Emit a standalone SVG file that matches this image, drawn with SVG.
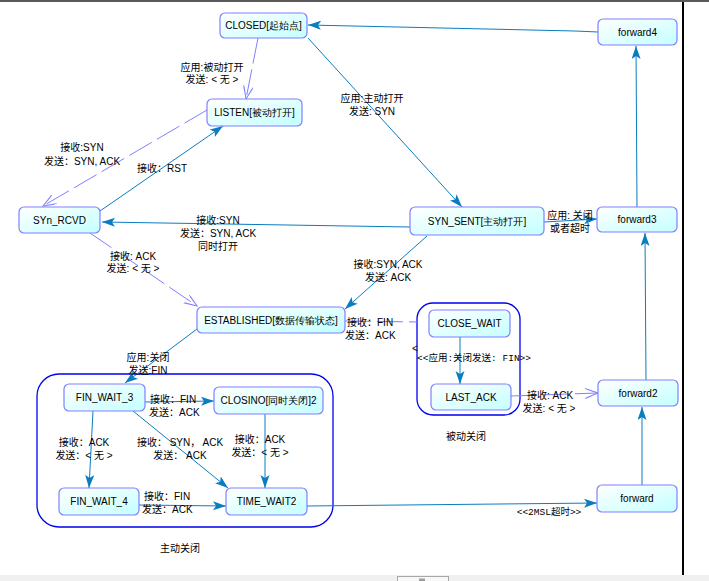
<svg xmlns="http://www.w3.org/2000/svg" width="709" height="581" viewBox="0 0 709 581">
<defs>
<linearGradient id="nf" x1="0" y1="0" x2="1" y2="1">
<stop offset="0" stop-color="#ffffff"/>
<stop offset="1" stop-color="#c4ffff"/>
</linearGradient>
<marker id="sa" markerUnits="userSpaceOnUse" markerWidth="14" markerHeight="10" refX="13" refY="4.5" orient="auto">
<path d="M0,0 L13,4.5 L0,9 L3,4.5 Z" fill="#0a7dc0"/>
</marker>
<marker id="oa" markerUnits="userSpaceOnUse" markerWidth="14" markerHeight="12" refX="13" refY="5" orient="auto">
<path d="M0,0 L13,5 L0,10 M2,1 L13,5 L2,9" fill="none" stroke="#8080ff" stroke-width="1"/>
</marker>
<style>
.n rect{fill:url(#nf);stroke:#8080ff;stroke-width:1.2}
.n text{font-family:"Liberation Sans",Arial,sans-serif;font-size:10px;fill:#000;text-anchor:middle}
.s{fill:none;stroke:#0a7dc0;stroke-width:1;marker-end:url(#sa)}
.d{fill:none;stroke:#8080ff;stroke-width:1;stroke-dasharray:26 6;marker-end:url(#oa)}
.dn{fill:none;stroke:#8080ff;stroke-width:1;stroke-dasharray:26 6}
.l{font-family:"Liberation Sans","Noto Sans CJK SC",sans-serif;font-size:10px;fill:#000;text-anchor:middle}
.ll{font-family:"Liberation Sans","Noto Sans CJK SC",sans-serif;font-size:10px;fill:#000}
.m{font-family:"Liberation Mono","Noto Sans CJK SC",monospace;font-size:9.5px;fill:#000;text-anchor:middle}
.c{fill:none;stroke:#0000ee;stroke-width:1.3}
</style>
</defs>
<rect width="709" height="581" fill="#ffffff"/>
<rect x="0" y="0" width="709" height="2" fill="#5a5a5a"/>
<rect x="682" y="2" width="2" height="574" fill="#000"/>
<rect x="0" y="575" width="709" height="6" fill="#f0f0f0"/>
<rect x="397.5" y="576.5" width="51" height="6" fill="#f8f8f8" stroke="#a8a8a8"/>
<path d="M420,578.5 V581 M422,578.5 V581 M424,578.5 V581" stroke="#444" stroke-width="1"/>

<g id="clusters">
<rect class="c" x="37" y="374" width="296" height="153" rx="22"/>
<rect class="c" x="417" y="303" width="103" height="112" rx="16"/>
<text class="l" x="180" y="552">主动关闭</text>
<text class="l" x="466" y="440">被动关闭</text>
</g>

<g id="connectors">
<path class="s" d="M598,32 L575,31 L308,25"/>
<path class="s" d="M308,38 L462,207"/>
<path class="d" d="M258,38 L246,99"/>
<path class="d" d="M207,110 L43,206"/>
<path class="s" d="M100,211 L223,126"/>
<path class="s" d="M410,227 L102,222"/>
<path class="s" d="M544,222 L597,219"/>
<path class="s" d="M637,207 L636,46"/>
<path class="s" d="M646,380 L645,233"/>
<path class="s" d="M642,485 L642,407"/>
<path class="s" d="M307,506 L597,503"/>
<path class="d" d="M511,396 L598,393"/>
<path class="s" d="M460,337 L460,384"/>
<path class="dn" d="M345,321 L417,322"/>
<path class="s" d="M427,236 L345,309"/>
<path class="d" d="M90,233 L197,306"/>
<path class="s" d="M197,329 L125,383"/>
<path class="s" d="M145,402 L214,401"/>
<path class="s" d="M93,411 L89,488"/>
<path class="s" d="M133,411 L228,488"/>
<path class="s" d="M265,414 L265,488"/>
<path class="s" d="M139,505 L226,506"/>

<text class="l" x="212" y="71">应用:被动打开</text>
<text class="l" x="212" y="83">发送: &lt; 无 &gt;</text>
<text class="l" x="372" y="102">应用:主动打开</text>
<text class="l" x="372" y="115">发送: SYN</text>
<text class="l" x="82" y="151">接收:SYN</text>
<text class="l" x="82" y="165">发送：SYN, ACK</text>
<text class="l" x="162" y="172">接收：RST</text>
<text class="l" x="218" y="224">接收:SYN</text>
<text class="l" x="218" y="237">发送：SYN, ACK</text>
<text class="l" x="218" y="250">同时打开</text>
<text class="l" x="570" y="219">应用: 关闭</text>
<text class="l" x="570" y="232">或者超时</text>
<text class="l" x="133" y="260">接收: ACK</text>
<text class="l" x="133" y="272">发送: &lt; 无 &gt;</text>
<text class="l" x="388" y="268">接收:SYN, ACK</text>
<text class="l" x="388" y="281">发送: ACK</text>
<text class="ll" x="347" y="326">接收：FIN</text>
<text class="ll" x="345" y="339">发送：ACK</text>
<text class="ll" x="412" y="352" font-size="9">&lt;</text>
<text class="m" x="474" y="361">&lt;&lt;应用:关闭发送: FIN&gt;&gt;</text>
<text class="l" x="148" y="361">应用:关闭</text>
<text class="l" x="148" y="374">发送:FIN</text>
<text class="l" x="550" y="399">接收: ACK</text>
<text class="l" x="549" y="412">发送: &lt; 无 &gt;</text>
<text class="ll" x="150" y="403">接收：FIN</text>
<text class="ll" x="149" y="416">发送：ACK</text>
<text class="l" x="84" y="446">接收：ACK</text>
<text class="l" x="84" y="459">发送：&lt; 无 &gt;</text>
<text class="l" x="180" y="446">接收： SYN， ACK</text>
<text class="l" x="180" y="459">发送： ACK</text>
<text class="l" x="260" y="443">接收：ACK</text>
<text class="l" x="260" y="456">发送：&lt; 无 &gt;</text>
<text class="ll" x="144" y="500">接收：FIN</text>
<text class="ll" x="142" y="513">发送：ACK</text>
<text class="m" x="549" y="515">&lt;&lt;2MSL超时&gt;&gt;</text>
</g>

<g id="n-closed" class="n"><rect x="220" y="13" width="87" height="25" rx="5"/><text x="263.5" y="29">CLOSED[起始点]</text></g>
<g id="n-listen" class="n"><rect x="207" y="99" width="95" height="27" rx="5"/><text x="254.5" y="116">LISTEN[被动打开]</text></g>
<g id="n-synrcvd" class="n"><rect x="19" y="207" width="81" height="26" rx="5"/><text x="59.5" y="224">SYn_RCVD</text></g>
<g id="n-synsent" class="n"><rect x="410" y="207" width="134" height="28" rx="5"/><text x="477" y="225">SYN_SENT[主动打开]</text></g>
<g id="n-forward4" class="n"><rect x="598" y="19" width="79" height="26" rx="5"/><text x="637.5" y="36">forward4</text></g>
<g id="n-forward3" class="n"><rect x="597" y="207" width="80" height="25" rx="5"/><text x="637" y="223">forward3</text></g>
<g id="n-established" class="n"><rect x="197" y="307" width="148" height="26" rx="5"/><text x="271" y="324">ESTABLISHED[数据传输状态]</text></g>
<g id="n-closewait" class="n"><rect x="429" y="310" width="81" height="27" rx="5"/><text x="469.5" y="327">CLOSE_WAIT</text></g>
<g id="n-lastack" class="n"><rect x="431" y="384" width="80" height="26" rx="5"/><text x="471" y="401">LAST_ACK</text></g>
<g id="n-forward2" class="n"><rect x="598" y="380" width="80" height="26" rx="5"/><text x="638" y="397">forward2</text></g>
<g id="n-forward" class="n"><rect x="597" y="485" width="80" height="27" rx="5"/><text x="637" y="502">forward</text></g>
<g id="n-finwait3" class="n"><rect x="64" y="384" width="81" height="27" rx="5"/><text x="104.5" y="401">FIN_WAIT_3</text></g>
<g id="n-closino" class="n"><rect x="214" y="387" width="109" height="27" rx="5"/><text x="268.5" y="404">CLOSINO[同时关闭]2</text></g>
<g id="n-finwait4" class="n"><rect x="59" y="488" width="80" height="27" rx="5"/><text x="99" y="505">FIN_WAIT_4</text></g>
<g id="n-timewait2" class="n"><rect x="226" y="488" width="81" height="27" rx="5"/><text x="266.5" y="505">TIME_WAIT2</text></g>
</svg>
